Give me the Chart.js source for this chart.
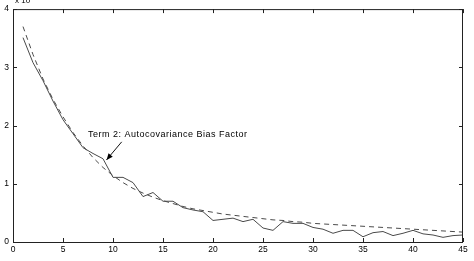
<!DOCTYPE html>
<html>
<head>
<meta charset="utf-8">
<script src="https://cdn.jsdelivr.net/npm/chart.js@4/dist/chart.umd.min.js"></script>
<style>
  body { margin: 0; background: #fff; }
  #wrap { width: 474px; height: 261px; }
</style>
</head>
<body>
<div id="wrap"><canvas id="myChart" width="474" height="261"></canvas></div>
<script>
let lags = [];
for (let i = 1; i <= 45; i++) lags.push(i);

let measured = [3.51, 3.08, 2.77, 2.42, 2.10, 1.86, 1.62, 1.52, 1.43, 1.11,
  1.11, 1.02, 0.78, 0.85, 0.70, 0.70, 0.59, 0.55, 0.52, 0.37,
  0.39, 0.41, 0.35, 0.39, 0.24, 0.20, 0.35, 0.32, 0.32, 0.25,
  0.22, 0.15, 0.20, 0.20, 0.09, 0.16, 0.18, 0.11, 0.15, 0.20,
  0.14, 0.12, 0.08, 0.11, 0.12];

let fitted = [3.70, 3.22, 2.80, 2.45, 2.15, 1.88, 1.65, 1.45, 1.28, 1.14,
  1.02, 0.92, 0.84, 0.77, 0.71, 0.66, 0.61, 0.57, 0.54, 0.51,
  0.48, 0.46, 0.44, 0.42, 0.40, 0.38, 0.37, 0.35, 0.34, 0.32,
  0.31, 0.30, 0.29, 0.28, 0.27, 0.26, 0.25, 0.24, 0.23, 0.22,
  0.21, 0.20, 0.19, 0.18, 0.17];

let xTicks = [0, 5, 10, 15, 20, 25, 30, 35, 40, 45];
let yTicks = [0, 1, 2, 3, 4];
let exponentLabel = "x 10";
let noteText = "Term 2: Autocovariance Bias Factor";

function toPoints(ys) {
  return ys.map((y, i) => ({ x: lags[i], y: y }));
}

// box, inward ticks, exponent label and the arrow note
let framePlugin = {
  id: "frame",
  afterDraw(chart) {
    let c = chart.ctx;
    let a = chart.chartArea;
    let xs = chart.scales.x;
    let ys = chart.scales.y;
    c.save();
    c.strokeStyle = "#222";
    c.lineWidth = 1;
    c.strokeRect(a.left + 0.5, a.top + 0.5, a.right - a.left - 1, a.bottom - a.top);
    c.beginPath();
    xTicks.forEach((t) => {
      let px = Math.round(xs.getPixelForValue(t)) + 0.5;
      c.moveTo(px, a.bottom); c.lineTo(px, a.bottom - 4);
      c.moveTo(px, a.top); c.lineTo(px, a.top + 4);
    });
    yTicks.forEach((t) => {
      let py = Math.round(ys.getPixelForValue(t)) + 0.5;
      c.moveTo(a.left, py); c.lineTo(a.left + 4, py);
      c.moveTo(a.right, py); c.lineTo(a.right - 4, py);
    });
    c.stroke();

    c.fillStyle = "#000";
    c.font = "8px 'Liberation Sans', Arial, sans-serif";
    c.textBaseline = "alphabetic";
    c.fillText(exponentLabel, a.left + 2, 3);

    // annotation
    c.font = "9px 'Liberation Sans', Arial, sans-serif";
    c.letterSpacing = "0.5px";
    c.textBaseline = "middle";
    c.fillText(noteText, xs.getPixelForValue(7.5), ys.getPixelForValue(1.85));
    c.letterSpacing = "0px";
    let x0 = xs.getPixelForValue(10.87), y0 = ys.getPixelForValue(1.72);
    let x1 = xs.getPixelForValue(9.35), y1 = ys.getPixelForValue(1.41);
    c.strokeStyle = "#111";
    c.beginPath();
    c.moveTo(x0, y0); c.lineTo(x1, y1);
    c.stroke();
    let ang = Math.atan2(y1 - y0, x1 - x0);
    c.beginPath();
    c.moveTo(x1, y1);
    c.lineTo(x1 - 7 * Math.cos(ang - 0.4), y1 - 7 * Math.sin(ang - 0.4));
    c.lineTo(x1 - 7 * Math.cos(ang + 0.4), y1 - 7 * Math.sin(ang + 0.4));
    c.closePath();
    c.fill();
    c.restore();
  },
};

let tickFont = { family: "'Liberation Sans', Arial", size: 8.5 };

let ctx = document.getElementById("myChart").getContext("2d");
let chart = new Chart(ctx, {
  type: "line",
  data: {
    datasets: [
      {
        label: "measured",
        data: toPoints(measured),
        borderColor: "#4a4a4a",
        borderWidth: 1,
        pointRadius: 0,
        tension: 0,
        fill: false,
      },
      {
        label: "fit",
        data: toPoints(fitted),
        borderColor: "#4a4a4a",
        borderWidth: 1,
        borderDash: [5, 4],
        pointRadius: 0,
        tension: 0,
        fill: false,
      },
    ],
  },
  options: {
    responsive: false,
    animation: false,
    layout: { padding: { top: 5, right: 11, left: 0, bottom: 0 } },
    plugins: {
      legend: { display: false },
      tooltip: { enabled: false },
    },
    scales: {
      x: {
        type: "linear",
        min: 0,
        max: 45,
        afterBuildTicks: (s) => { s.ticks = xTicks.map((v) => ({ value: v })); },
        afterFit: (s) => { s.height = 19; },
        grid: { display: false, drawTicks: false },
        border: { display: false },
        ticks: {
          color: "#000",
          padding: 3,
          maxRotation: 0,
          font: tickFont,
        },
      },
      y: {
        type: "linear",
        min: 0,
        max: 4,
        afterBuildTicks: (s) => { s.ticks = yTicks.map((v) => ({ value: v })); },
        afterFit: (s) => { s.width = 13; },
        grid: { display: false, drawTicks: false },
        border: { display: false },
        ticks: {
          color: "#000",
          padding: 4,
          font: tickFont,
        },
      },
    },
  },
  plugins: [framePlugin],
});
</script>
</body>
</html>
